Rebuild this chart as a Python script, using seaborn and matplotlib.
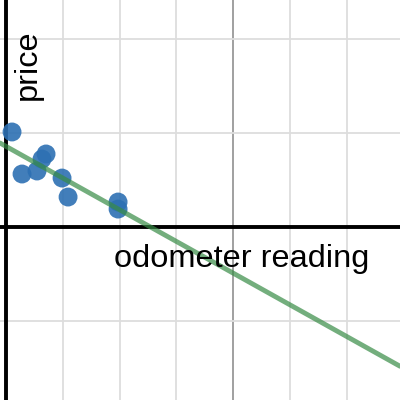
import numpy as np
import pandas as pd
import matplotlib
matplotlib.use("Agg")
import matplotlib.pyplot as plt
import seaborn as sns

# datos (unidades = lineas de la cuadricula)
odometer = [0.106, 0.282, 0.546, 0.634, 0.705, 0.987, 1.093, 1.974, 1.974]
price = [1.011, 0.564, 0.596, 0.723, 0.777, 0.521, 0.319, 0.266, 0.191]

# recta ajustada
intercept = 0.858
slope = -0.337

df = pd.DataFrame({"odometer": odometer, "price": price})

sns.set_theme(style="white")
plt.rcParams['font.family'] = ['Liberation Sans', 'DejaVu Sans']

fig = plt.figure(figsize=(4, 4), dpi=100)
ax = fig.add_axes([0, 0, 1, 1])

xmin, xmax = -0.106, 6.94
ymin, ymax = -1.84, 2.415

# cuadricula
for gx in range(1, 7):
    ax.axvline(gx, color='#999999' if gx == 4 else '#dddddd', lw=1.3, zorder=0)
for gy in [-1, 1, 2]:
    ax.axhline(gy, color='#dddddd', lw=1.3, zorder=0)
ax.axvline(0, color='black', lw=2.8, zorder=1)
ax.axhline(0, color='black', lw=2.8, zorder=1)

sns.scatterplot(data=df, x="odometer", y="price", color='#2d70b3', alpha=0.9,
                s=185, edgecolor='none', ax=ax, zorder=2)

xs = np.array([xmin, xmax])
line_df = pd.DataFrame({"x": xs, "y": intercept + slope * xs})
sns.lineplot(data=line_df, x="x", y="y", color='#388c46', alpha=0.7, lw=3.5, ax=ax, zorder=3)

ax.text(1.9, -0.18, "odometer reading", fontsize=23.4, color='black', va='top', ha='left', zorder=4)
ax.text(0.12, 1.35, "price", fontsize=23.4, color='black', rotation=90, va='bottom', ha='left', zorder=4)

ax.set_xlim(xmin, xmax)
ax.set_ylim(ymin, ymax)
ax.set_xlabel("")
ax.set_ylabel("")
ax.set_xticks([])
ax.set_yticks([])
for s in ax.spines.values():
    s.set_visible(False)

fig.savefig("out.png", dpi=100)
